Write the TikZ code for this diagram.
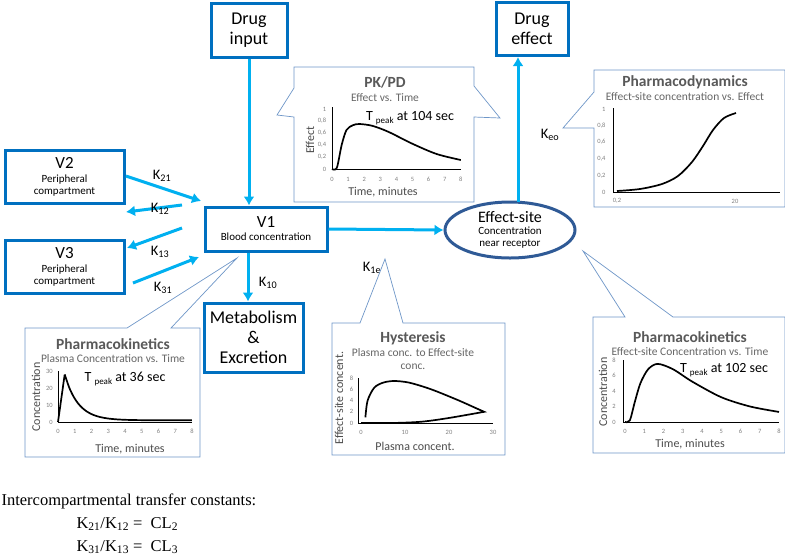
\documentclass[tikz,border=0pt]{standalone}
\usepackage{fontspec}
\setmainfont{Carlito}
\newfontfamily\tms{Liberation Serif}
\usetikzlibrary{arrows.meta,shapes.geometric}
\definecolor{bb}{RGB}{0,112,192}
\newcommand\mytpk{T \raisebox{-2.5pt}{\fontsize{9}{10}\selectfont peak}}
\begin{document}
\begin{tikzpicture}[x=1pt,y=-1pt,
  box/.style={draw=bb,line width=3pt,align=center,inner sep=0pt},
  arr/.style={draw={rgb,255:red,0;green,176;blue,240},line width=3pt,-{Latex[length=9pt,width=11pt]}},
  call/.style={draw={rgb,255:red,110;green,150;blue,200},line width=0.7pt,fill=white},
  ax/.style={line width=0.8pt},
  crv/.style={line width=1.7pt},
  tk/.style={font=\fontsize{6.5}{7}\selectfont,text=gray},
  ttl/.style={font=\bfseries\fontsize{15.5}{17}\selectfont,text=black!65},
  sub/.style={font=\fontsize{11.5}{13}\selectfont,text=black!60},
  axl/.style={font=\fontsize{12}{13}\selectfont,text=black!70},
  kl/.style={font=\fontsize{14.5}{16}\selectfont},
  tp/.style={font=\fontsize{14}{15}\selectfont}]
\useasboundingbox (0,0) rectangle (785,558);
% boxes
\node[box,minimum width=76,minimum height=54,font=\fontsize{18}{20}\selectfont] (din) at (249,30) {Drug\\input};
\node[box,minimum width=72,minimum height=53,font=\fontsize{18}{20}\selectfont] (deff) at (532,29) {Drug\\effect};
\node[box,minimum width=119,minimum height=53] (v2) at (64.5,176.5) {{\fontsize{17}{18}\selectfont V2}\\[2pt]{\fontsize{11}{13}\selectfont Peripheral}\\{\fontsize{11}{13}\selectfont compartment}};
\node[box,minimum width=119,minimum height=53] (v3) at (64.5,266.5) {{\fontsize{17}{18}\selectfont V3}\\[2pt]{\fontsize{11}{13}\selectfont Peripheral}\\{\fontsize{11}{13}\selectfont compartment}};
\node[box,minimum width=122,minimum height=44] (v1) at (266,229) {{\fontsize{17}{18}\selectfont V1}\\[1pt]{\fontsize{11}{13}\selectfont Blood concentration}};
\node[box,minimum width=99,minimum height=69,font=\fontsize{18}{20}\selectfont] (met) at (253.5,337.5) {Metabolism\\\&\\Excretion};
\node[ellipse,draw={rgb,255:red,47;green,90;blue,150},line width=3pt,minimum width=130,minimum height=56,align=center,inner sep=0pt] (es) at (510,230) {{\fontsize{16}{17}\selectfont Effect-site}\\{\fontsize{11}{12}\selectfont Concentration}\\{\fontsize{11}{12}\selectfont near receptor}};
% arrows
\draw[arr] (din.south) -- (v1.north -| din.south);
\coordinate (esT) at (518,202);
\draw[arr] (esT) -- (deff.south -| esT);
\node[kl] at (550,135) {K\textsubscript{eo}};
\draw[arr] (v1.east) -- (es.west);
\node[kl] at (372,268) {K\textsubscript{1e}};
\draw[arr] (v1.south -| 248,0) -- (met.north -| 248,0);
\node[kl] at (268,283) {K\textsubscript{10}};
\coordinate (a1) at (126,176); \coordinate (a2) at (201,201);
\coordinate (b1) at (182,205); \coordinate (b2) at (126,212);
\coordinate (c1) at (182,228); \coordinate (c2) at (127,248);
\coordinate (d1) at (133,283); \coordinate (d2) at (199,257);
\draw[arr] (a1) -- (a2); \draw[arr] (b1) -- (b2);
\draw[arr] (c1) -- (c2); \draw[arr] (d1) -- (d2);
\node[kl] at (162,176) {K\textsubscript{21}};
\node[kl] at (160,209) {K\textsubscript{12}};
\node[kl] at (160,252) {K\textsubscript{13}};
\node[kl] at (163,288) {K\textsubscript{31}};
% ===== PK/PD callout
\draw[call] (294,67) -- (474,67) -- (474,86) -- (500,118) -- (474,117) -- (474,202) -- (294,202) -- (294,117) -- (277,115) -- (294,88) -- cycle;
\node[ttl] at (385,82) {PK/PD};
\node[sub] at (385,98) {Effect vs. Time};
\begin{scope}[shift={(332,169)},x=16.1pt,y=60pt]
 \draw[ax] (0,1.03) -- (0,0) -- (8,0);
 \foreach \v/\l in {0/0,0.2/{0,2},0.4/{0,4},0.6/{0,6},0.8/{0,8},1/1} \node[tk,anchor=east] at (-0.15,\v) {\l};
 \foreach \t in {0,...,8} \node[tk] at (\t,-0.17) {\t};
 \draw[crv] plot[smooth] coordinates {(0,0)(0.3,0.02)(0.6,0.4)(0.9,0.65)(1.3,0.73)(1.7,0.75)(2.5,0.72)(3.5,0.62)(5,0.42)(6.5,0.25)(8,0.15)};
\end{scope}
\node[axl,rotate=90] at (310,140) {Effect};
\node[axl] at (383,192) {Time, minutes};
\node[tp] at (410,118) {\mytpk{} at 104 sec};
% ===== Pharmacodynamics callout
\draw[call] (594,70) -- (785,70) -- (785,207) -- (594,207) -- (594,128) -- (563,128) -- (594,92) -- cycle;
\node[ttl] at (685,82) {Pharmacodynamics};
\node[sub] at (685,97) {Effect-site concentration vs. Effect};
\draw[ax] (613,108) -- (613,192) -- (780,192);
\foreach \v/\l in {0/0,0.2/{0,2},0.4/{0,4},0.6/{0,6},0.8/{0,8},1/1} \node[tk,anchor=east] at (609,192-83*\v) {\l};
\node[tk] at (617,201) {0,2}; \node[tk] at (735,201) {20};
\draw[crv] plot[smooth] coordinates {(617,191)(640,189)(662,184)(678,176)(692,162)(703,146)(713,130)(724,118)(736,113)};
% ===== Left PK callout
\draw[call] (25,328) -- (127,328) -- (237,258) -- (171,328) -- (200,328) -- (200,457) -- (25,457) -- cycle;
\node[ttl] at (113,344) {Pharmacokinetics};
\node[sub] at (113,359) {Plasma Concentration vs. Time};
\begin{scope}[shift={(58,422)},x=16.75pt,y=1.7pt]
 \draw[ax] (0,30) -- (0,0) -- (8,0);
 \foreach \v in {0,10,20,30} \node[tk,anchor=east] at (-0.1,\v) {\v};
 \foreach \t in {0,...,8} \node[tk] at (\t,-5.5) {\t};
 \draw[crv] (0,0) -- (0.4,28) plot[smooth,domain=0.4:8,samples=30] (\x,{27*exp(-1.25*(\x-0.4))+1});
\end{scope}
\node[axl,rotate=90] at (36,397) {Concentration};
\node[axl] at (130,449) {Time, minutes};
\node[tp] at (125,379) {\mytpk{} at 36 sec};
% ===== Hysteresis callout
\draw[call] (332,323) -- (360,323) -- (385,259) -- (403,323) -- (505,323) -- (505,455) -- (332,455) -- cycle;
\node[ttl] at (413,338) {Hysteresis};
\node[sub,align=center] at (413,359) {Plasma conc. to Effect-site\\conc.};
\begin{scope}[shift={(361,423)},x=4.4pt,y=5.6pt]
 \draw[ax] (-0.7,8) -- (-0.7,0) -- (30,0);
 \foreach \v in {0,2,4,6,8} \node[tk,anchor=east] at (-1,\v) {\v};
 \foreach \t in {0,10,20,30} \node[tk] at (\t,-1.6) {\t};
 \draw[crv] plot[smooth] coordinates {(1,1)(1.5,4)(3,6.3)(5,7.2)(7.5,7.5)(11,7.2)(16,6)(22,4.1)(26,2.7)(28,2)} -- plot[smooth] coordinates {(28,2)(20,0.9)(14,0.25)(8,0.02)(0,0)};
\end{scope}
\node[axl,rotate=90] at (339,398) {Effect-site concent.};
\node[axl] at (415,446) {Plasma concent.};
% ===== Right PK callout
\draw[call] (593,317) -- (625,317) -- (583,251) -- (673,317) -- (785,317) -- (785,453) -- (593,453) -- cycle;
\node[ttl] at (690,337) {Pharmacokinetics};
\node[sub] at (690,352) {Effect-site Concentration vs. Time};
\begin{scope}[shift={(625,422)},x=19.25pt,y=7.75pt]
 \draw[ax] (-0.1,8) -- (-0.1,0) -- (8,0);
 \foreach \v in {0,2,4,6,8} \node[tk,anchor=east] at (-0.3,\v) {\v};
 \foreach \t in {0,...,8} \node[tk] at (\t,-1.2) {\t};
 \draw[crv] plot[smooth] coordinates {(0,0)(0.25,0.2)(0.5,2.5)(0.8,5)(1.2,6.8)(1.7,7.5)(2.5,6.8)(3.5,5.2)(5,3.2)(6.5,2.0)(8,1.3)};
\end{scope}
\node[axl,rotate=90] at (603,392) {Concentration};
\node[axl] at (690,444) {Time, minutes};
\node[tp] at (724,370) {\mytpk{} at 102 sec};
% ===== bottom text
\node[anchor=west,font=\tms\fontsize{16.5}{18}\selectfont] (t0) at (-2,501) {Intercompartmental transfer constants:};
\node[anchor=west,font=\tms\fontsize{16.5}{18}\selectfont] (t1) at (73,524) {K\textsubscript{21}/K\textsubscript{12} = \ CL\textsubscript{2}};
\node[anchor=west,font=\tms\fontsize{16.5}{18}\selectfont] (t2) at (73,547) {K\textsubscript{31}/K\textsubscript{13} = \ CL\textsubscript{3}};
\end{tikzpicture}
\end{document}
